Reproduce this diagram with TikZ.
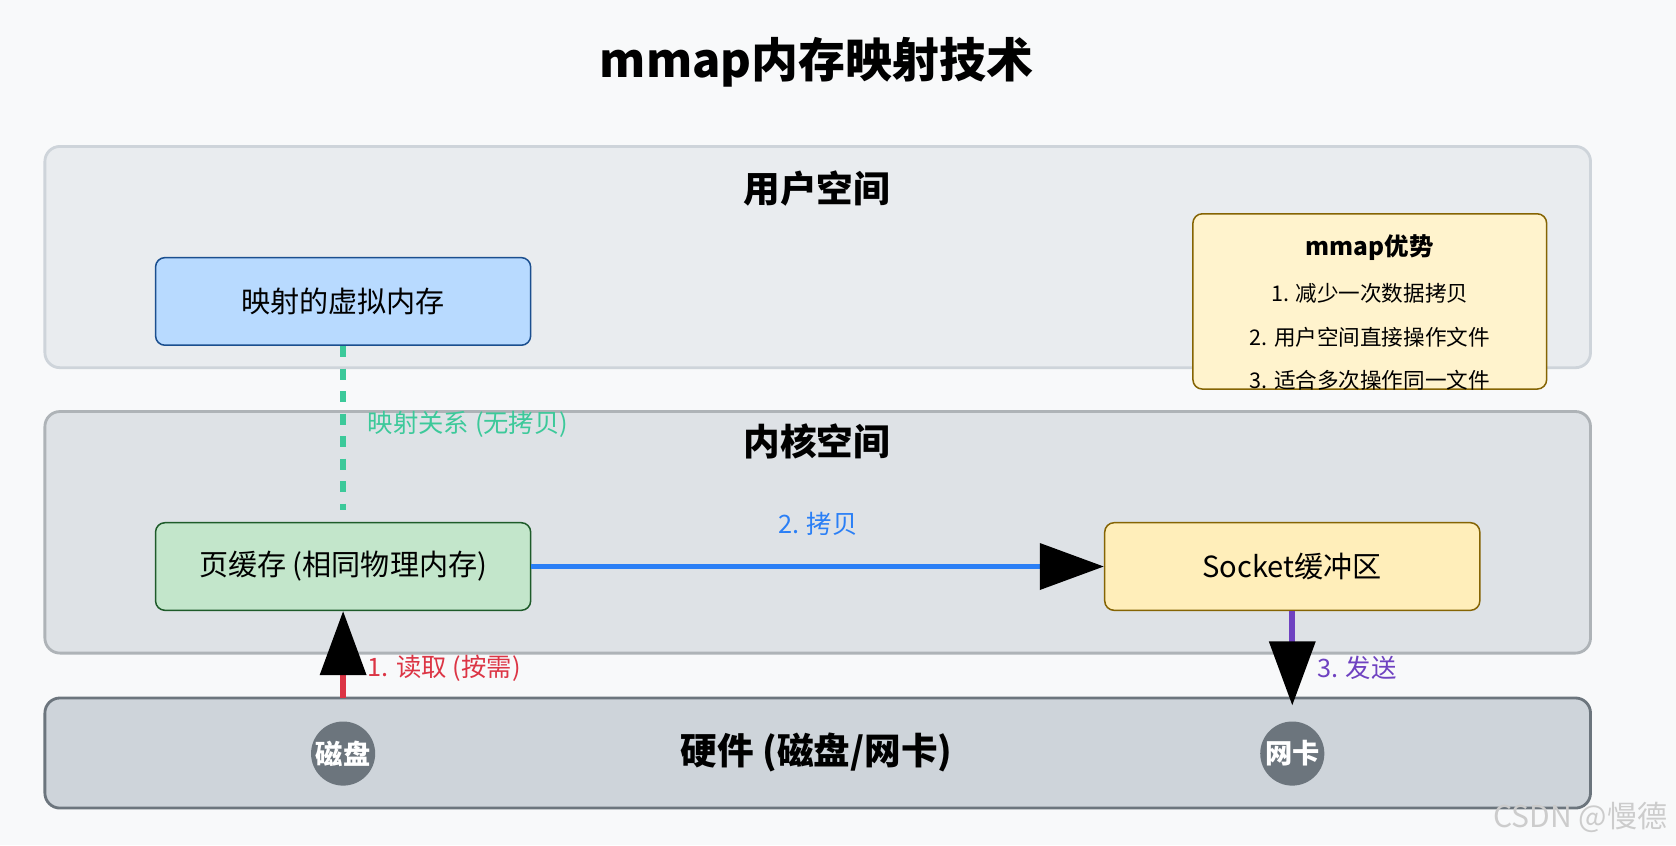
\documentclass[tikz,border=0pt]{standalone}
\usepackage{fontspec}
\setmainfont{Noto Sans CJK SC}
\usetikzlibrary{arrows.meta,positioning}
\definecolor{bgc}{HTML}{F8F9FA}
\definecolor{userc}{HTML}{E9ECEF}
\definecolor{kernc}{HTML}{DEE2E6}
\definecolor{hwc}{HTML}{CED4DA}
\definecolor{greyc}{HTML}{6C757D}
\definecolor{vmemc}{HTML}{B8DAFF}
\definecolor{vmemb}{HTML}{1B4F8F}
\definecolor{pagec}{HTML}{C3E6CB}
\definecolor{pageb}{HTML}{1E5B2A}
\definecolor{sockc}{HTML}{FFEEBA}
\definecolor{advc}{HTML}{FFF3CD}
\definecolor{yelb}{HTML}{856404}
\definecolor{mapc}{HTML}{3CC99A}
\definecolor{copyc}{HTML}{2A7FF6}
\definecolor{readc}{HTML}{DC3545}
\definecolor{sendc}{HTML}{6F42C1}

\begin{document}
\begin{tikzpicture}[x=0.02cm,y=-0.02cm,
  layer/.style={draw,line width=1.5pt,rounded corners=8pt},
  box/.style={draw,line width=0.8pt,rounded corners=5pt,minimum width=7.02cm,
    minimum height=1.64cm,font=\fontsize{15.5}{18}\selectfont},
  dev/.style={circle,fill=greyc,text=white,minimum size=1.2cm,inner sep=0pt,
    font=\fontsize{14.5}{16}\selectfont\bfseries},
  big head/.style={-{Triangle[length=1.2cm,width=0.85cm,color=black]}},
  lbl/.style={font=\fontsize{13.5}{15}\selectfont}]

  \fill[bgc] (0,0) rectangle (1568,791);
  \node[font=\fontsize{25}{30}\selectfont\bfseries] (title) at (764,58) {mmap内存映射技术};

  % layers
  \draw[layer,fill=userc,draw=hwc] (42,137) rectangle (1488,344);
  \draw[layer,fill=kernc,draw=greyc!55] (42,385) rectangle (1488,611);
  \draw[layer,fill=hwc,draw=greyc] (42,653) rectangle (1488,756);
  \node[font=\fontsize{19.5}{22}\selectfont\bfseries] (user) at (764,176) {用户空间};
  \node[font=\fontsize{19.5}{22}\selectfont\bfseries] (kern) at (764,413) {内核空间};
  \node[font=\fontsize{19.5}{22}\selectfont\bfseries] (hw) at (764,704) {硬件 (磁盘/网卡)};

  % boxes
  \node[box,fill=vmemc,draw=vmemb] (vmem) at (321,282) {映射的虚拟内存};
  \node[box,fill=pagec,draw=pageb] (page) at (321,530) {页缓存 (相同物理内存)};
  \node[box,fill=sockc,draw=yelb] (sock) at (1209,530) {Socket缓冲区};
  \node[draw=yelb,fill=advc,line width=0.8pt,rounded corners=5pt,minimum width=6.62cm,
    minimum height=3.28cm] (adv) at (1281.5,282) {};
  \node[font=\fontsize{13}{15}\selectfont\bfseries] at (1281.5,232) {mmap优势};
  \node[font=\fontsize{11.5}{13}\selectfont] at (1281.5,274) {1. 减少一次数据拷贝};
  \node[font=\fontsize{11.5}{13}\selectfont] at (1281.5,316) {2. 用户空间直接操作文件};
  \node[font=\fontsize{11.5}{13}\selectfont] at (1281.5,356) {3. 适合多次操作同一文件};

  \node[dev] (disk) at (321,705) {磁盘};
  \node[dev] (nic) at (1209,705) {网卡};
  \coordinate (diskTop) at (321,653);
  \coordinate (nicTop) at (1209,660);
  \coordinate (pageTop) at (321,477);

  % connectors
  \draw[mapc,line width=3pt,dash pattern=on 6pt off 6pt] (vmem.south) -- (pageTop);
  \node[lbl,text=mapc,anchor=west] at (338,397) {映射关系 (无拷贝)};
  \draw[copyc,line width=3pt,big head] (page.east) -- (sock.west);
  \node[lbl,text=copyc] at (765,490) {2. 拷贝};
  \draw[readc,line width=3pt,big head] (diskTop) -- (page.south);
  \node[lbl,text=readc,anchor=west] at (338,625) {1. 读取 (按需)};
  \draw[sendc,line width=3pt,big head] (sock.south) -- (nicTop);
  \node[lbl,text=sendc,anchor=west] at (1226,625) {3. 发送};

  \node[font=\fontsize{16}{18}\selectfont,text=white!80!black,anchor=east] (mark) at (1566,765) {CSDN @慢德};
\end{tikzpicture}
\end{document}
